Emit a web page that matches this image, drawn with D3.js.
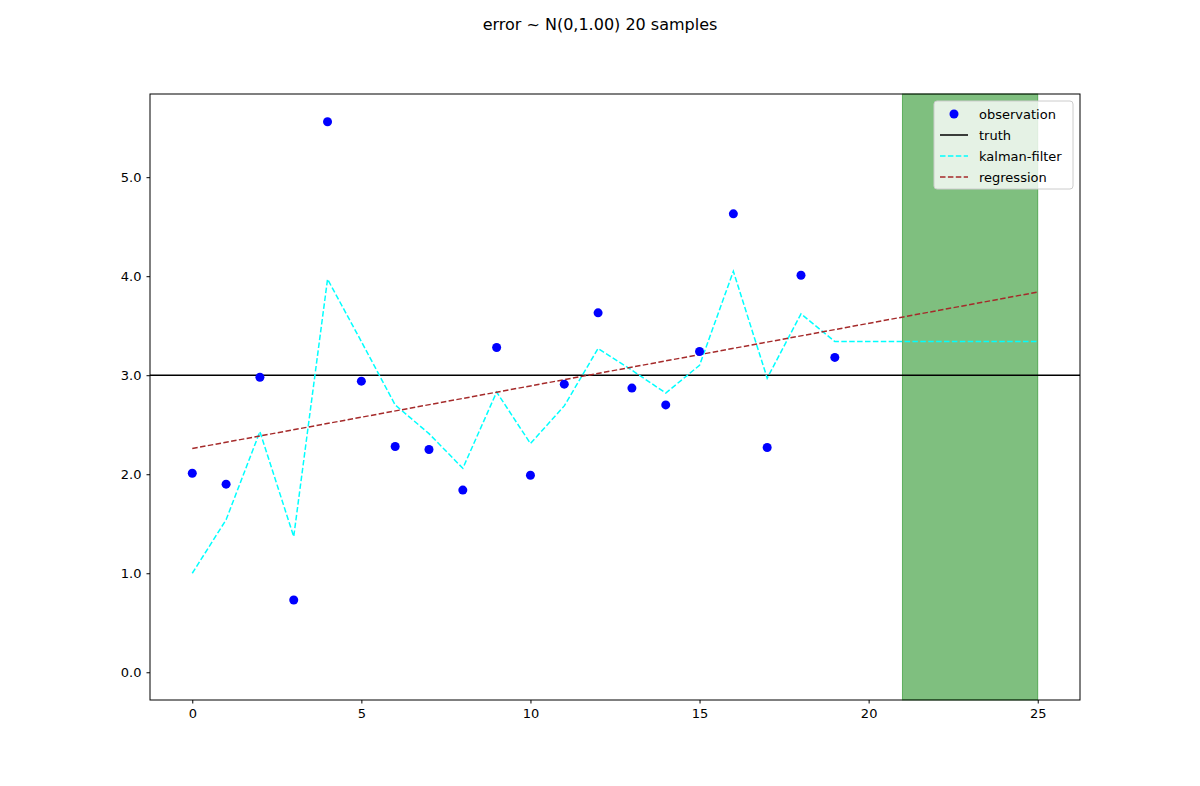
<!DOCTYPE html>
<html><head><meta charset="utf-8">
<script src="https://cdn.jsdelivr.net/npm/d3@7"></script>
<style>body{margin:0;background:#fff}text{font-family:"DejaVu Sans",sans-serif}</style>
</head><body><svg id="c" width="1200" height="786"></svg>
<script>
const obsX=d3.range(0,20);
const obsY=[2.01,1.90,2.98,0.73,5.56,2.94,2.28,2.25,1.84,3.28,1.99,2.91,3.63,2.87,2.70,3.24,4.63,2.27,4.01,3.18];
const kfX=[0,1,2,3,4,5,6,7,8,9,10,11,12,13,14,15,16,17,18,19,20,21,22,23,24,25];
const kfY=[1.0,1.54,2.43,1.37,3.97,3.34,2.70,2.41,2.06,2.83,2.31,2.69,3.27,3.05,2.82,3.10,4.05,2.97,3.62,3.34,3.34,3.34,3.34,3.34,3.34,3.34];
const regX=[0,25], regY=[2.26,3.84];
const truth=3;
const span=[21,25];
const xTicks=[0,5,10,15,20,25], yTicks=[0,1,2,3,4,5];
const title="error ~ N(0,1.00) 20 samples";

const svg=d3.select("#c");
const L=150,R=1080,T=94,B=700;
const x=d3.scaleLinear().domain([-1.25,26.25]).range([L,R]);
const y=d3.scaleLinear().domain([-0.28,5.84]).range([B,T]);
svg.append("text").attr("x",600).attr("y",30).attr("text-anchor","middle").attr("font-size",16).text(title);
const g=svg.append("g");
g.append("rect").attr("x",x(span[0])).attr("y",T).attr("width",x(span[1])-x(span[0])).attr("height",B-T)
 .attr("fill","green").attr("fill-opacity",0.5).attr("stroke","green").attr("stroke-opacity",0.5);
g.append("line").attr("x1",L).attr("x2",R).attr("y1",y(truth)).attr("y2",y(truth)).attr("stroke","black").attr("stroke-width",1.5);
const line=d3.line().x(d=>x(d[0])).y(d=>y(d[1]));
g.append("path").attr("d",line(kfX.map((v,i)=>[v,kfY[i]]))).attr("fill","none").attr("stroke","cyan").attr("stroke-width",1.5).attr("stroke-dasharray","5.5,2.4");
g.append("path").attr("d",line(regX.map((v,i)=>[v,regY[i]]))).attr("fill","none").attr("stroke","brown").attr("stroke-width",1.5).attr("stroke-dasharray","5.5,2.4");
g.selectAll("circle").data(obsX).join("circle").attr("cx",d=>x(d)).attr("cy",(d,i)=>y(obsY[i])).attr("r",4.5).attr("fill","blue");
svg.append("rect").attr("x",L).attr("y",T).attr("width",R-L).attr("height",B-T).attr("fill","none").attr("stroke","black");
const xa=svg.append("g").attr("transform",`translate(0,${B})`).call(d3.axisBottom(x).tickValues(xTicks).tickSize(3.5).tickPadding(5));
const ya=svg.append("g").attr("transform",`translate(${L},0)`).call(d3.axisLeft(y).tickValues(yTicks).tickSize(3.5).tickPadding(5));
[xa,ya].forEach(a=>{a.select(".domain").remove();a.selectAll("text").attr("font-size",13).attr("font-family","DejaVu Sans");});
// legend
const lg=svg.append("g").attr("transform","translate(934,101)");
lg.append("rect").attr("width",139).attr("height",88).attr("rx",3).attr("fill","white").attr("fill-opacity",0.8).attr("stroke","#ccc");
const items=[["observation","o"],["truth","black"],["kalman-filter","cyan"],["regression","brown"]];
items.forEach((it,i)=>{const yy=13+i*21;
 if(it[1]=="o") lg.append("circle").attr("cx",20).attr("cy",yy).attr("r",4.5).attr("fill","blue");
 else lg.append("line").attr("x1",6).attr("x2",34).attr("y1",yy).attr("y2",yy).attr("stroke",it[1]).attr("stroke-width",1.5).attr("stroke-dasharray",it[1]=="black"?null:"5.5,2.4");
 lg.append("text").attr("x",45).attr("y",yy+4.5).attr("font-size",13).text(it[0]);});
</script></body></html>
